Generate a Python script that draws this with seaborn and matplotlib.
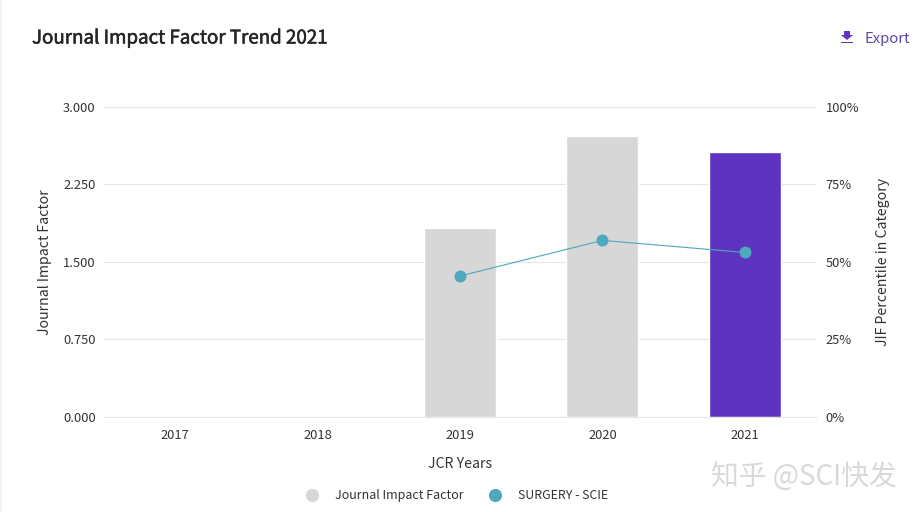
import matplotlib
matplotlib.use("Agg")
import matplotlib.patheffects as pe
import matplotlib.pyplot as plt
import pandas as pd
import seaborn as sns
from matplotlib.lines import Line2D
from matplotlib.patches import Polygon, Rectangle

years = ["2017", "2018", "2019", "2020", "2021"]
jif_values = [None, None, 1.825, 2.715, 2.565]
percentile_values = [None, None, 45.4, 56.9, 53.0]
jif_ticks = [0, 0.75, 1.5, 2.25, 3.0]
jif_tick_labels = ["0.000", "0.750", "1.500", "2.250", "3.000"]
pct_ticks = [0, 25, 50, 75, 100]
pct_tick_labels = ["0%", "25%", "50%", "75%", "100%"]
bar_colors = ["#d7d7d7", "#d7d7d7", "#d7d7d7", "#d7d7d7", "#5e33bf"]

GRID = "#e6e6e6"
TEXT = "#333333"
TEAL = "#4fa8bd"
PURPLE = "#5e33bf"

W, H = 921, 512

sns.set_theme(style="white")
plt.rcParams["font.family"] = ["Noto Sans CJK SC", "DejaVu Sans"]

df = pd.DataFrame({"year": years, "jif": jif_values, "pct": percentile_values})
df["jif"] = df["jif"].astype(float)
df["pct"] = df["pct"].astype(float)

fig = plt.figure(figsize=(W / 100, H / 100), dpi=100)
ax = fig.add_axes([104 / W, 1 - 416.5 / H, 712 / W, 309.5 / H])

sns.barplot(
    data=df, x="year", y="jif", hue="year", order=years, hue_order=years,
    palette=bar_colors, saturation=1, legend=False, width=0.507, ax=ax, zorder=2,
)
ax.set_ylim(0, 3)
ax.set_xlim(-0.5, 4.5)
ax.set_yticks(jif_ticks)
ax.set_yticklabels(jif_tick_labels)
ax.grid(True, axis="y", color=GRID, linewidth=0.8, zorder=0)
ax.set_axisbelow(True)
ax.tick_params(axis="both", length=0, labelsize=9.3, labelcolor=TEXT)
ax.tick_params(axis="y", pad=6)
ax.tick_params(axis="x", pad=9)
ax.set_xlabel("JCR Years", fontsize=10.2, color=TEXT, labelpad=11)
ax.set_ylabel("Journal Impact Factor", fontsize=10.2, color=TEXT, labelpad=8)
for side in ["top", "left", "right"]:
    ax.spines[side].set_visible(False)
ax.spines["bottom"].set_color(GRID)
ax.spines["bottom"].set_linewidth(0.8)

ax2 = ax.twinx()
sns.pointplot(
    data=df, x="year", y="pct", order=years, color=TEAL, errorbar=None,
    markersize=8, linewidth=0.8, ax=ax2,
)
ax2.set_ylim(0, 100)
ax2.set_xlim(-0.5, 4.5)
ax2.set_yticks(pct_ticks)
ax2.set_yticklabels(pct_tick_labels)
ax2.tick_params(axis="y", length=0, labelsize=9.3, labelcolor=TEXT, pad=7)
ax2.set_ylabel("JIF Percentile in Category", fontsize=10.2, color=TEXT, labelpad=12)
ax2.set_xlabel("")
for side in ["top", "left", "right", "bottom"]:
    ax2.spines[side].set_visible(False)
ax2.grid(False)

# faint page edge on the left
fig.add_artist(Rectangle((0, 0), 2 / W, 1, transform=fig.transFigure, color="#f2f2f2", lw=0))

# title and export link
title = fig.text(32 / W, 1 - 38 / H, "Journal Impact Factor Trend 2021", fontsize=13.5,
                 color="#262626", va="center", ha="left")
title.set_path_effects([pe.withStroke(linewidth=0.4, foreground="#262626")])
fig.text(864 / W, 1 - 38.5 / H, "Export", fontsize=10.7, color="#5f45a8", va="center", ha="left")
icon = [(844, 31), (850, 31), (850, 35), (853, 35), (847, 40), (841, 35), (844, 35)]
fig.add_artist(Polygon([(x / W, 1 - y / H) for x, y in icon], closed=True,
                       transform=fig.transFigure, color=PURPLE, lw=0))
fig.add_artist(Rectangle((841 / W, 1 - 43 / H), 12 / W, 1.5 / H,
                         transform=fig.transFigure, color=PURPLE, lw=0))

# legend built by hand to keep the wide spacing
for mx, tx, size, color, label in [
    (312, 335, 9.0, "#d7d7d7", "Journal Impact Factor"),
    (495, 518, 8.9, TEAL, "SURGERY - SCIE"),
]:
    fig.add_artist(Line2D([mx / W], [1 - 494.5 / H], marker="o", markersize=9.5,
                          color=color, markeredgewidth=0, linestyle="none",
                          transform=fig.transFigure))
    fig.text(tx / W, 1 - 495.5 / H, label, fontsize=size, color=TEXT, va="center", ha="left")

# watermark
fig.text(711 / W, 1 - 477 / H, "知乎 @SCI快发", fontsize=20, color="#d9d9d9",
         va="center", ha="left")

fig.savefig("out.png", dpi=100)
